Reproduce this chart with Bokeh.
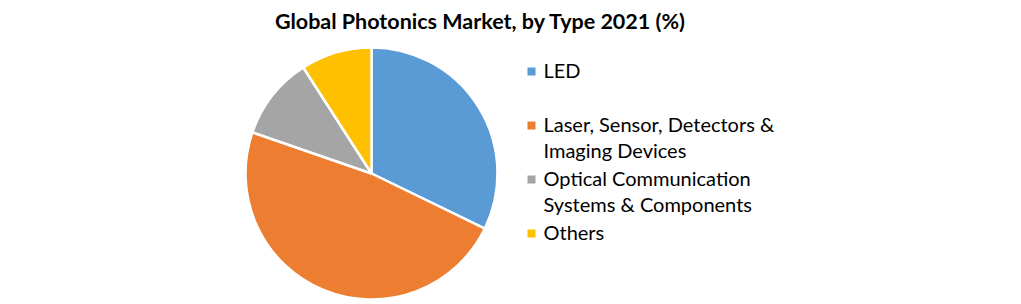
import math
from bokeh.plotting import figure
from bokeh.models import Range1d, ColumnDataSource
from bokeh.core.properties import value
from bokeh.embed import file_html
from bokeh.resources import INLINE

# Data
categories = ["LED", "Laser, Sensor, Detectors &\nImaging Devices",
              "Optical Communication\nSystems & Components", "Others"]
shares = [32.2, 48.1, 10.6, 9.1]
colors = ["#5B9BD5", "#ED7D31", "#A5A5A5", "#FFC000"]
title_text = "Global Photonics Market, by Type 2021 (%)"

W, H = 1021, 304
p = figure(width=W, height=H, output_backend="svg", toolbar_location=None,
           x_range=Range1d(0, W), y_range=Range1d(0, H), min_border=0)
p.axis.visible = False
p.grid.visible = False
p.outline_line_color = None
p.background_fill_color = "white"
p.border_fill_color = "white"

def Y(py):
    return H - py

# Pie
total = sum(shares)
starts, ends = [], []
cum = 0.0
for s in shares:
    starts.append(math.pi / 2 - 2 * math.pi * cum / total)
    cum += s
    ends.append(math.pi / 2 - 2 * math.pi * cum / total)
src = ColumnDataSource(dict(start=starts, end=ends, color=colors))
p.wedge(x=371, y=Y(173), radius=126, start_angle="start", end_angle="end",
        direction="clock", fill_color="color", line_color="white", line_width=2.5,
        source=src)

# Title
p.text(x=[480], y=[Y(20)], text=[title_text], text_align="center",
       text_baseline="middle", text_font=value("Lato"), text_font_style="bold",
       text_font_size="21.5px", text_color="black")

# Legend
entry_y0 = 71
entry_step = 54
line_step = 26.5
for i, (cat, col) in enumerate(zip(categories, colors)):
    yy = entry_y0 + i * entry_step
    p.rect(x=[531], y=[Y(yy)], width=8, height=8, fill_color=col, line_color=None)
    for j, line in enumerate(cat.split("\n")):
        p.text(x=[543], y=[Y(yy - 2 + j * line_step)], text=[line], text_align="left",
               text_baseline="middle", text_font=value("Lato"),
               text_font_size="20px", text_color="black")

open("out.html", "w").write(file_html(p, INLINE))
